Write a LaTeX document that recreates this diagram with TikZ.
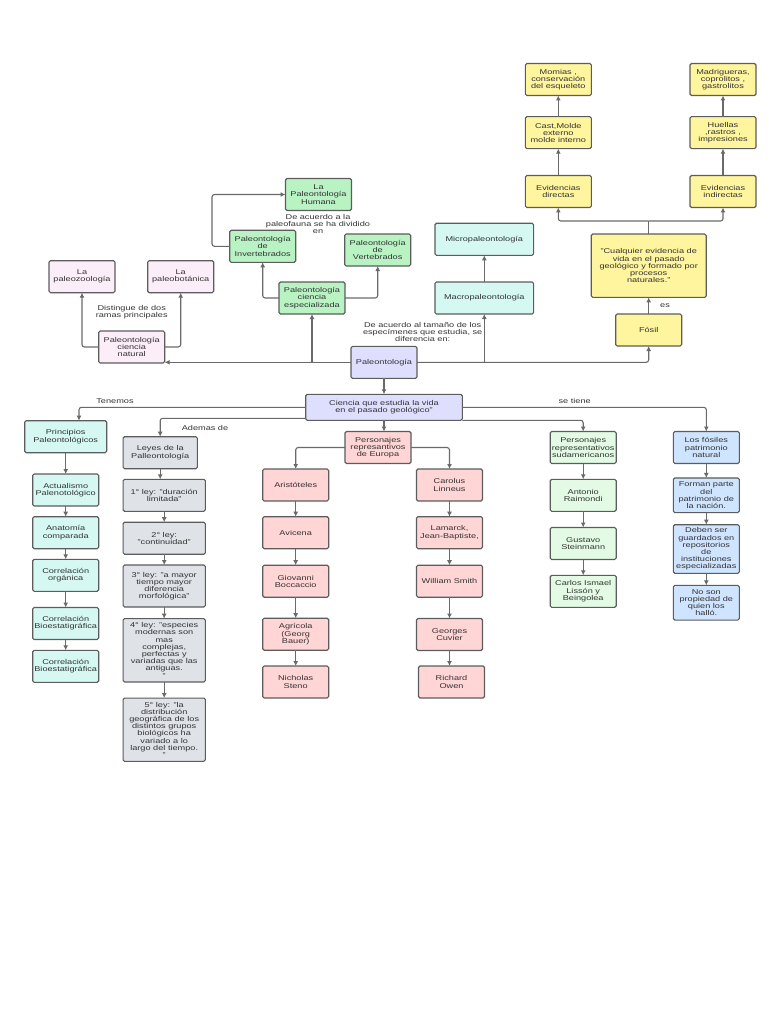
\documentclass[tikz,border=0pt]{standalone}
\usepackage{fontspec}
\setmainfont[FakeStretch=1.31]{Liberation Sans}
\usetikzlibrary{arrows.meta}
\definecolor{cpink}{HTML}{FCEEF8}
\definecolor{cgreen}{HTML}{B9F3C4}
\definecolor{ccyan}{HTML}{D5F8F2}
\definecolor{clilac}{HTML}{DEDEFF}
\definecolor{cyellow}{HTML}{FFF59E}
\definecolor{cred}{HTML}{FFD5D5}
\definecolor{cgray}{HTML}{DFE2E7}
\definecolor{clgreen}{HTML}{E3FBE5}
\definecolor{cblue}{HTML}{CFE4FF}
\definecolor{cline}{HTML}{5C5C5C}
\definecolor{cconn}{HTML}{6A6A6A}
\definecolor{ctext}{HTML}{333333}
\tikzset{
  bx/.style={draw=cline,line width=1.1pt,rounded corners=1.5pt,minimum width=66pt,minimum height=32pt,
    inner sep=0pt,outer sep=0pt,align=center,text=ctext,font=\fontsize{7}{7.2}\selectfont},
  lbl/.style={inner sep=0pt,outer sep=0pt,align=center,text=ctext,font=\fontsize{7}{7.2}\selectfont},
  arr/.style={draw=cconn,line width=1.1pt,rounded corners=2.5pt,-{Latex[length=5pt,width=5pt]}},
  plainln/.style={draw=cconn,line width=1.1pt}
}
\begin{document}
\begin{tikzpicture}[x=1pt,y=-1pt]
\useasboundingbox (0,0) rectangle (768,1024);
% upper left
\node[bx,fill=cgreen] (hum) at (318.5,194.5) {La\\Paleontología\\Humana};
\node[bx,fill=cgreen] (inv) at (262.7,246.3) {Paleontología\\de\\Invertebrados};
\node[bx,fill=cgreen] (ver) at (377.7,250) {Paleontología\\de\\Vertebrados};
\node[bx,fill=cgreen] (esp) at (312,298) {Paleontología\\ciencia\\especializada};
\node[bx,fill=cpink] (zoo) at (82,276.7) {La\\paleozoología};
\node[bx,fill=cpink] (bot) at (180.7,276.7) {La\\paleobotánica};
\node[bx,fill=cpink] (nat) at (131.7,347) {Paleontología\\ciencia\\natural};
\node[bx,fill=clilac] (pal) at (384,362.3) {Paleontología};
\node[bx,fill=clilac,minimum width=156.6pt,minimum height=26pt] (cie) at (384,407.3) {Ciencia que estudia la vida\\en el pasado geológico"};
% upper right
\node[bx,fill=cyellow] (mom) at (558.3,79.5) {Momias ,\\conservación\\del esqueleto};
\node[bx,fill=cyellow] (cas) at (558.3,132.7) {Cast,Molde\\externo\\molde interno};
\node[bx,fill=cyellow] (dir) at (558.3,191.5) {Evidencias\\directas};
\node[bx,fill=cyellow] (mad) at (723,79.5) {Madrigueras,\\coprolitos ,\\gastrolitos};
\node[bx,fill=cyellow] (hue) at (723,132.7) {Huellas\\,rastros ,\\impresiones};
\node[bx,fill=cyellow] (ind) at (723,191.5) {Evidencias\\indirectas};
\node[bx,fill=ccyan,minimum width=98.7pt] (mic) at (484.3,239.3) {Micropaleontología};
\node[bx,fill=ccyan,minimum width=98.7pt] (mac) at (484.3,298) {Macropaleontología};
\node[bx,fill=cyellow,minimum width=115pt,minimum height=63.3pt] (cua) at (648.7,265.7) {"Cualquier evidencia de\\vida en el pasado\\geológico y formado por\\procesos\\naturales."};
\node[bx,fill=cyellow] (fos) at (648.7,330) {Fósil};
% principios
\node[bx,fill=ccyan,minimum width=82pt] (pri) at (65.7,436.7) {Principios\\Paleontológicos};
\node[bx,fill=ccyan] (act) at (65.7,490) {Actualismo\\Palenotológico};
\node[bx,fill=ccyan] (ana) at (65.7,532.7) {Anatomía\\comparada};
\node[bx,fill=ccyan] (cor) at (65.7,575.3) {Correlación\\orgánica};
\node[bx,fill=ccyan] (cba) at (65.7,623.5) {Correlación\\Bioestatigráfica};
\node[bx,fill=ccyan] (cbb) at (65.7,666.3) {Correlación\\Bioestatigráfica};
% leyes
\node[bx,fill=cgray,minimum width=74.3pt] (ley) at (160.2,452.7) {Leyes de la\\Palleontología};
\node[bx,fill=cgray,minimum width=82.3pt] (lea) at (164.2,495.3) {1° ley: "duración\\limitada"};
\node[bx,fill=cgray,minimum width=82.3pt] (leb) at (164.2,538.2) {2° ley:\\"continuidad"};
\node[bx,fill=cgray,minimum width=82.3pt,minimum height=42pt] (lec) at (164.2,586) {3° ley: "a mayor\\tiempo mayor\\diferencia\\morfológica"};
\node[bx,fill=cgray,minimum width=82.3pt,minimum height=63.3pt] (led) at (164.2,650.3) {4° ley: "especies\\modernas son\\mas\\complejas,\\perfectas y\\variadas que las\\antiguas.\\"};
\node[bx,fill=cgray,minimum width=82.3pt,minimum height=63.3pt] (lee) at (164.2,729.7) {5° ley: "la\\distribución\\geográfica de los\\distintos grupos\\biológicos ha\\variado a lo\\largo del tiempo.\\"};
% europa
\node[bx,fill=cred] (eur) at (378,447.5) {Personajes\\represantivos\\de Europa};
\node[bx,fill=cred] (ari) at (295.7,485) {Aristóteles};
\node[bx,fill=cred] (avi) at (295.7,532.7) {Avicena};
\node[bx,fill=cred] (gio) at (295.7,581.2) {Giovanni\\Boccaccio};
\node[bx,fill=cred] (agr) at (295.7,634.2) {Agrícola\\(Georg\\Bauer)};
\node[bx,fill=cred] (nic) at (295.7,682) {Nicholas\\Steno};
\node[bx,fill=cred] (car) at (449.5,485) {Carolus\\Linneus};
\node[bx,fill=cred] (lam) at (449.5,532.7) {Lamarck,\\Jean-Baptiste,};
\node[bx,fill=cred] (wil) at (449.5,581.2) {William Smith};
\node[bx,fill=cred] (geo) at (449.5,634.5) {Georges\\Cuvier};
\node[bx,fill=cred] (ric) at (451.5,682) {Richard\\Owen};
% sudamericanos
\node[bx,fill=clgreen] (sud) at (583.2,447.5) {Personajes\\representativos\\sudamericanos};
\node[bx,fill=clgreen] (ant) at (583.2,495.3) {Antonio\\Raimondi};
\node[bx,fill=clgreen] (gus) at (583.2,543.5) {Gustavo\\Steinmann};
\node[bx,fill=clgreen] (lis) at (583.2,591.3) {Carlos Ismael\\Lissón y\\Beingolea};
% fosiles
\node[bx,fill=cblue] (pat) at (706.3,447.5) {Los fósiles\\patrimonio\\natural};
\node[bx,fill=cblue,minimum height=34.7pt] (for) at (706.3,495.3) {Forman parte\\del\\patrimonio de\\la nación.};
\node[bx,fill=cblue,minimum height=48.6pt] (deb) at (706.3,549) {Deben ser\\guardados en\\repositorios\\de\\instituciones\\especializadas};
\node[bx,fill=cblue,minimum height=34.7pt] (pro) at (706.3,602.7) {No son\\propiedad de\\quien los\\halló.};
% free labels
\node[lbl] (t1) at (318,224) {De acuerdo a la\\paleofauna se ha dividido\\en};
\node[lbl] (t2) at (131.7,312) {Distingue de dos\\ramas principales};
\node[lbl] (t3) at (422.7,332) {De acuerdo al tamaño de los\\especímenes que estudia, se\\diferencia en:};
\node[lbl] (t4) at (665,305.7) {es};
\node[lbl] (t5) at (574.7,401.3) {se tiene};
\node[lbl] (t6) at (115,401.3) {Tenemos};
\node[lbl] (t7) at (205,428.3) {Ademas de};
% connectors upper left
\draw[arr] (pal.west) -- (nat.east |- pal.west);
\draw[arr] (esp.south |- pal.west) -- (esp.south);
\draw[arr] (nat.west) -| (zoo.south);
\draw[arr] (nat.east) -| (bot.south);
\draw[arr] (esp.west) -| (inv.south);
\draw[arr] (esp.east) -| (ver.south);
\coordinate (jhum) at (212,0);
\draw[arr] (inv.west) -- (inv.west -| jhum) -- (hum.west -| jhum) -- (hum.west);
% connectors upper right
\draw[arr] (mac.south |- pal.east) -- (mac.south);
\draw[arr] (mac.north) -- (mic.south);
\draw[arr] (pal.east) -| (fos.south);
\draw[arr] (fos.north) -- (cua.south);
\coordinate (jtop) at (0,221);
\draw[plainln] (cua.north) -- (cua.north |- jtop);
\draw[arr] (cua.north |- jtop) -- (dir.south |- jtop) -- (dir.south);
\draw[arr] (cua.north |- jtop) -- (ind.south |- jtop) -- (ind.south);
\draw[arr] (dir.north) -- (cas.south);
\draw[arr] (cas.north) -- (mom.south);
\draw[arr] (ind.north) -- (hue.south);
\draw[arr] (hue.north) -- (mad.south);
\draw[arr] (pal.south) -- (cie.north);
% from ciencia
\draw[arr] (cie.west) -| ([xshift=13.3pt]pri.north);
\draw[arr] ([yshift=2pt]cie.south west) -| (ley.north);
\draw[arr] (cie.south) -- (cie.south |- eur.north);
\draw[arr] (cie.east) -| (pat.north);
\draw[arr] (cie.south east) -| (sud.north);
\draw[arr] (eur.west) -| (ari.north);
\draw[arr] (eur.east) -| (car.north);
% chains
\draw[arr] (pri.south) -- (act.north);
\draw[arr] (act.south) -- (ana.north);
\draw[arr] (ana.south) -- (cor.north);
\draw[arr] (cor.south) -- (cba.north);
\draw[arr] (cba.south) -- (cbb.north);
\draw[arr] (ley.south) -- (lea.north -| ley.south);
\draw[arr] (lea.south) -- (leb.north);
\draw[arr] (leb.south) -- (lec.north);
\draw[arr] (lec.south) -- (led.north);
\draw[arr] (led.south) -- (lee.north);
\draw[arr] (ari.south) -- (avi.north);
\draw[arr] (avi.south) -- (gio.north);
\draw[arr] (gio.south) -- (agr.north);
\draw[arr] (agr.south) -- (nic.north);
\draw[arr] (car.south) -- (lam.north);
\draw[arr] (lam.south) -- (wil.north);
\draw[arr] (wil.south) -- (geo.north);
\draw[arr] (geo.south) -- (ric.north -| geo.south);
\draw[arr] (sud.south) -- (ant.north);
\draw[arr] (ant.south) -- (gus.north);
\draw[arr] (gus.south) -- (lis.north);
\draw[arr] (pat.south) -- (for.north);
\draw[arr] (for.south) -- (deb.north);
\draw[arr] (deb.south) -- (pro.north);
\end{tikzpicture}
\end{document}
